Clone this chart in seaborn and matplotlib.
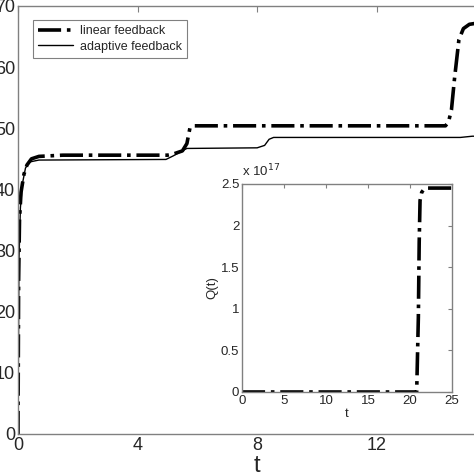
import numpy as np
import pandas as pd
import seaborn as sns
import matplotlib.pyplot as plt

## Data
t_linear = [0, 0.02, 0.05, 0.1, 0.2, 0.3, 0.45, 0.7, 1.5, 5.0, 5.2, 5.5, 5.65, 5.75, 5.85,
            14.3, 14.4, 14.5, 14.6, 14.75, 14.9, 15.1, 15.5, 16]
y_linear = [0, 25, 35, 39.5, 42.5, 44, 45, 45.4, 45.6, 45.6, 45.8, 46.3, 47.5, 50.0, 50.4,
            50.4, 51, 53, 58, 64.5, 66.3, 67, 67.3, 67.3]

t_adaptive = [0, 0.03, 0.08, 0.15, 0.25, 0.4, 0.7, 4.95, 5.2, 5.45, 5.65, 8.0, 8.25, 8.4, 8.55,
              14.8, 15.2, 16]
y_adaptive = [0, 28, 37, 41, 43.5, 44.5, 44.8, 44.9, 45.5, 46.2, 46.7, 46.8, 47.2, 48.2, 48.5,
              48.5, 48.7, 48.7]

# inset: Q(t) in units of 1e17
t_q = [0, 20.8, 21.0, 21.1, 21.2, 21.4, 21.7, 22.0, 25]
q_e17 = [0, 0, 0.9, 1.8, 2.3, 2.4, 2.44, 2.45, 2.45]

main_xticks = [0, 4, 8, 12, 16]
main_yticks = [0, 10, 20, 30, 40, 50, 60, 70]
inset_xticks = [0, 5, 10, 15, 20, 25]
inset_yticks = [0, 0.5, 1, 1.5, 2, 2.5]
inset_ylabels = ['0', '0.5', '1', '1.5', '2', '2.5']

df_lin = pd.DataFrame({'t': t_linear, 'v': y_linear})
df_ada = pd.DataFrame({'t': t_adaptive, 'v': y_adaptive})
df_q = pd.DataFrame({'t': t_q, 'q': q_e17})

sns.set_style("white")
plt.rcParams['font.family'] = ['Liberation Sans', 'DejaVu Sans']
spine_col = '#808080'

fig = plt.figure(figsize=(4.74, 4.74), dpi=100)
ax = fig.add_axes([0.038, 0.0844, 1.009, 0.903])

sns.lineplot(data=df_lin, x='t', y='v', ax=ax, color='black', linewidth=2.6,
             linestyle='-.', label='linear feedback')
sns.lineplot(data=df_ada, x='t', y='v', ax=ax, color='black', linewidth=1.0,
             linestyle='-', label='adaptive feedback')

ax.set_xlim(0, 16)
ax.set_ylim(0, 70)
ax.set_xticks(main_xticks)
ax.set_yticks(main_yticks)
ax.tick_params(direction='in', top=True, right=True, labelsize=13, length=4,
               color=spine_col, pad=2)
ax.set_xlabel('t', fontsize=17, labelpad=1)
ax.set_ylabel('')
for s in ax.spines.values():
    s.set_color(spine_col)
    s.set_linewidth(1.0)

leg = ax.legend(loc='upper left', bbox_to_anchor=(0.031, 0.967), borderaxespad=0,
                fontsize=9, handlelength=2.8, handletextpad=0.6, fancybox=False,
                framealpha=1, edgecolor=spine_col, borderpad=0.4, labelspacing=0.3)
leg.get_frame().set_linewidth(0.8)

# inset
axi = fig.add_axes([0.5105, 0.173, 0.443, 0.439])
sns.lineplot(data=df_q, x='t', y='q', ax=axi, color='black', linewidth=2.6,
             linestyle='-.')
axi.set_xlim(0, 25)
axi.set_ylim(0, 2.5)
axi.set_xticks(inset_xticks)
axi.set_yticks(inset_yticks)
axi.set_yticklabels(inset_ylabels)
axi.tick_params(direction='in', top=True, right=True, labelsize=9.5, length=3,
                color=spine_col, pad=2)
axi.set_xlabel('t', fontsize=9.5, labelpad=1)
axi.set_ylabel('Q(t)', fontsize=9.5, labelpad=2)
for s in axi.spines.values():
    s.set_color(spine_col)
    s.set_linewidth(1.0)
axi.text(0.0, 1.02, 'x 10$^{17}$', transform=axi.transAxes, fontsize=9.5,
         ha='left', va='bottom')

fig.savefig('out.png', dpi=100)
